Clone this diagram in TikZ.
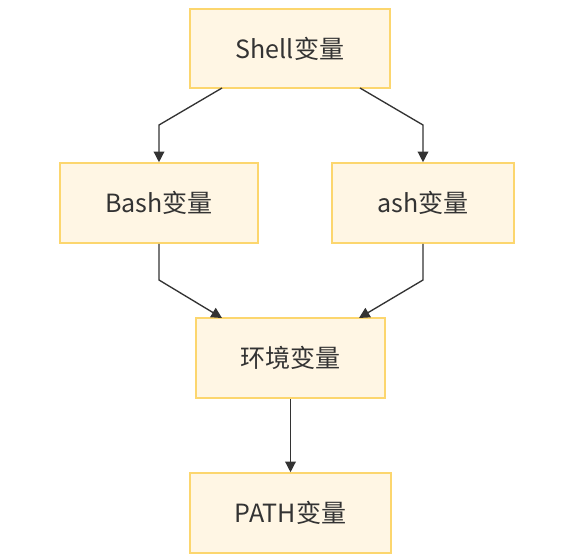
\documentclass[tikz,border=0pt]{standalone}
\usepackage{fontspec}
\setmainfont{Noto Sans CJK SC}
\usetikzlibrary{arrows.meta}
\definecolor{boxfill}{HTML}{FFF6E4}
\definecolor{boxline}{HTML}{FCD66E}
\definecolor{txt}{HTML}{333333}
\tikzset{
  box/.style={draw=boxline, fill=boxfill, line width=1.2pt, text=txt, font=\fontsize{18.8}{22}\selectfont, inner sep=0pt},
  conn/.style={draw=txt, line width=1pt, -{Triangle[length=8pt,width=8pt]}}
}
\begin{document}
\begin{tikzpicture}[x=0.75pt,y=-0.75pt]
\useasboundingbox (0,0) rectangle (581,558);
\fill[white] (0,0) rectangle (581,558);
\node[box, minimum width=200*0.75pt, minimum height=79*0.75pt] (shell) at (290,48.5) {Shell变量};
\node[box, minimum width=198*0.75pt, minimum height=80*0.75pt] (bash) at (159,203) {Bash变量};
\node[box, minimum width=182*0.75pt, minimum height=80*0.75pt] (ash) at (423,203) {ash变量};
\node[box, minimum width=189*0.75pt, minimum height=80*0.75pt] (env) at (290.5,358) {环境变量};
\node[box, minimum width=201*0.75pt, minimum height=80*0.75pt] (path) at (290.5,513) {PATH变量};
\coordinate (s1) at (222,88);
\coordinate (s2) at (360,88);
\draw[conn] (s1) -- (159,125) -- (bash.north);
\draw[conn] (s2) -- (423,125) -- (ash.north);
\draw[conn] (bash.south) -- (159,280) -- (222,318);
\draw[conn] (ash.south) -- (423,280) -- (359,318);
\draw[conn] (env.south) -- (path.north);
\end{tikzpicture}
\end{document}
